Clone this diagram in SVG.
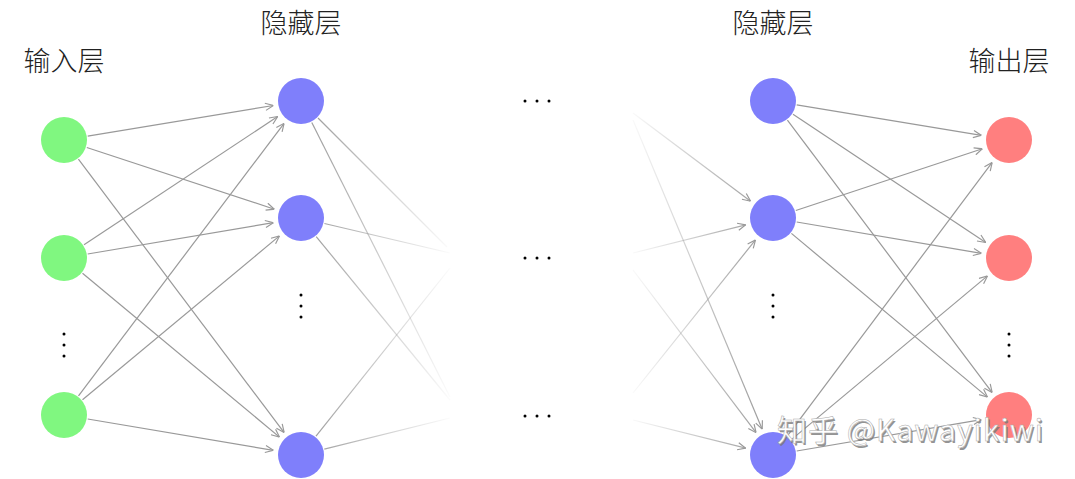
<svg xmlns="http://www.w3.org/2000/svg" width="1075" height="479" viewBox="0 0 1075 479">
<style>
.label{font-family:"Noto Sans CJK SC","Noto Sans",sans-serif;font-size:27px;font-weight:300;fill:#222;text-anchor:middle}
.in{fill:#80f780}
.hid{fill:#7f7ffb}
.out{fill:#ff7f7f}
.dot{fill:#000}
.edge{stroke:#999;stroke-width:1.2;fill:none;marker-end:url(#arr)}
.fadeL{stroke:url(#gL);stroke-width:1.2;fill:none}
.fadeR{stroke:url(#gR);stroke-width:1.2;fill:none;marker-end:url(#arr)}
.wm{font-family:"Noto Sans CJK SC","Liberation Sans",sans-serif;font-size:30px;letter-spacing:1px}
</style>
<defs>
<marker id="arr" viewBox="0 0 10 10" refX="10" refY="5" markerWidth="9" markerHeight="9" markerUnits="userSpaceOnUse" orient="auto">
<path d="M1,1 L10,5 L1,9" fill="none" stroke="#999" stroke-width="1.3"/>
</marker>
<linearGradient id="gL" gradientUnits="userSpaceOnUse" x1="305" y1="0" x2="455" y2="0">
<stop offset="0" stop-color="#999" stop-opacity="1"/>
<stop offset="1" stop-color="#999" stop-opacity="0"/>
</linearGradient>
<linearGradient id="gR" gradientUnits="userSpaceOnUse" x1="625" y1="0" x2="765" y2="0">
<stop offset="0" stop-color="#999" stop-opacity="0"/>
<stop offset="1" stop-color="#999" stop-opacity="1"/>
</linearGradient>
</defs>
<rect width="1075" height="479" fill="#fff"/>

<g id="connectors">
<line class="edge" x1="87.7" y1="136.1" x2="273.4" y2="105.5"/>
<line class="edge" x1="86.8" y1="147.5" x2="274.4" y2="209.2"/>
<line class="edge" x1="78.4" y1="159.2" x2="284.2" y2="432.6"/>
<line class="edge" x1="84.0" y1="244.7" x2="277.7" y2="116.5"/>
<line class="edge" x1="87.7" y1="254.0" x2="273.4" y2="222.7"/>
<line class="edge" x1="82.5" y1="273.3" x2="279.5" y2="437.1"/>
<line class="edge" x1="78.5" y1="395.8" x2="284.1" y2="123.3"/>
<line class="edge" x1="82.5" y1="399.7" x2="279.5" y2="235.9"/>
<line class="edge" x1="87.7" y1="419.0" x2="273.4" y2="450.3"/>

<line class="fadeL" x1="318" y1="118" x2="447" y2="247"/>
<line class="fadeL" x1="311.8" y1="122.4" x2="450" y2="397"/>
<line class="fadeL" x1="324.4" y1="223.5" x2="450" y2="253"/>
<line class="fadeL" x1="316.2" y1="236.6" x2="450" y2="400"/>
<line class="fadeL" x1="316.0" y1="436.2" x2="450" y2="268"/>
<line class="fadeL" x1="324.3" y1="449.2" x2="450" y2="418"/>

<line class="fadeR" x1="633" y1="113" x2="750.6" y2="201.2"/>
<line class="fadeR" x1="633" y1="253" x2="745.8" y2="224.8"/>
<line class="fadeR" x1="633" y1="393" x2="755.5" y2="239.9"/>
<line class="fadeR" x1="633" y1="120" x2="762.2" y2="429.2"/>
<line class="fadeR" x1="633" y1="270" x2="756.1" y2="432.7"/>
<line class="fadeR" x1="633" y1="420" x2="745.8" y2="448.2"/>

<line class="edge" x1="796.7" y1="104.9" x2="981.4" y2="135.4"/>
<line class="edge" x1="793.0" y1="114.3" x2="985.7" y2="242.5"/>
<line class="edge" x1="787.4" y1="120.2" x2="992.2" y2="392.6"/>
<line class="edge" x1="795.8" y1="210.5" x2="982.4" y2="148.8"/>
<line class="edge" x1="796.7" y1="222.0" x2="981.4" y2="253.3"/>
<line class="edge" x1="791.4" y1="233.4" x2="987.5" y2="397.1"/>
<line class="edge" x1="787.4" y1="435.8" x2="992.2" y2="162.4"/>
<line class="edge" x1="791.4" y1="439.6" x2="987.5" y2="275.9"/>
<line class="edge" x1="796.7" y1="451.0" x2="981.4" y2="419.7"/>
</g>

<g id="labels">
<text class="label" x="64" y="71">输入层</text>
<text class="label" x="301" y="33">隐藏层</text>
<text class="label" x="773" y="33">隐藏层</text>
<text class="label" x="1009" y="71">输出层</text>
</g>

<g id="input-1"><circle class="in" cx="64" cy="140" r="23"/></g>
<g id="input-2"><circle class="in" cx="64" cy="258" r="23"/></g>
<g id="input-3"><circle class="in" cx="64" cy="415" r="23"/></g>
<g id="input-dots"><circle class="dot" cx="64" cy="334" r="1.5"/><circle class="dot" cx="64" cy="345" r="1.5"/><circle class="dot" cx="64" cy="356" r="1.5"/></g>

<g id="hidden1-1"><circle class="hid" cx="301" cy="101" r="23"/></g>
<g id="hidden1-2"><circle class="hid" cx="301" cy="218" r="23"/></g>
<g id="hidden1-3"><circle class="hid" cx="301" cy="455" r="23"/></g>
<g id="hidden1-dots"><circle class="dot" cx="301" cy="295" r="1.5"/><circle class="dot" cx="301" cy="306" r="1.5"/><circle class="dot" cx="301" cy="317" r="1.5"/></g>

<g id="middle-dots">
<circle class="dot" cx="525" cy="101" r="1.5"/><circle class="dot" cx="537" cy="101" r="1.5"/><circle class="dot" cx="549" cy="101" r="1.5"/>
<circle class="dot" cx="525" cy="258" r="1.5"/><circle class="dot" cx="537" cy="258" r="1.5"/><circle class="dot" cx="549" cy="258" r="1.5"/>
<circle class="dot" cx="525" cy="416" r="1.5"/><circle class="dot" cx="537" cy="416" r="1.5"/><circle class="dot" cx="549" cy="416" r="1.5"/>
</g>

<g id="hidden2-1"><circle class="hid" cx="773" cy="101" r="23"/></g>
<g id="hidden2-2"><circle class="hid" cx="773" cy="218" r="23"/></g>
<g id="hidden2-3"><circle class="hid" cx="773" cy="455" r="23"/></g>
<g id="hidden2-dots"><circle class="dot" cx="773" cy="295" r="1.5"/><circle class="dot" cx="773" cy="306" r="1.5"/><circle class="dot" cx="773" cy="317" r="1.5"/></g>

<g id="output-1"><circle class="out" cx="1009" cy="140" r="23"/></g>
<g id="output-2"><circle class="out" cx="1009" cy="258" r="23"/></g>
<g id="output-3"><circle class="out" cx="1009" cy="415" r="23"/></g>
<g id="output-dots"><circle class="dot" cx="1009" cy="334" r="1.5"/><circle class="dot" cx="1009" cy="345" r="1.5"/><circle class="dot" cx="1009" cy="356" r="1.5"/></g>

<g id="watermark">
<text class="wm" x="778.5" y="442.5" fill="#777" fill-opacity="0.8">知乎 @Kawayikiwi</text>
<text class="wm" x="777" y="441" fill="#fff" stroke="#aaa" stroke-width="0.5">知乎 @Kawayikiwi</text>
</g>
</svg>
